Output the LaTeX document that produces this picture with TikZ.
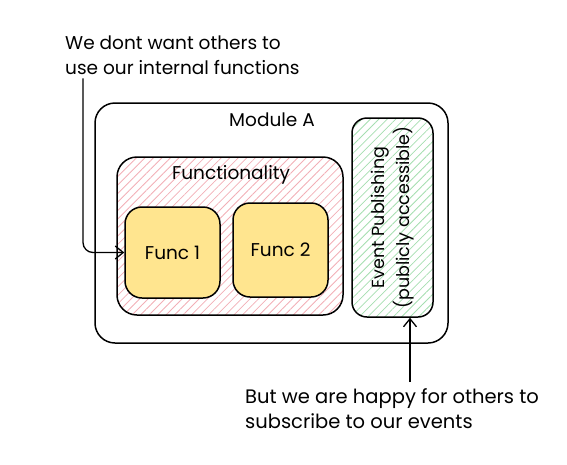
\documentclass[tikz,border=0pt]{standalone}
\usepackage{fontspec}
\setmainfont{Poppins}
\usetikzlibrary{arrows.meta,patterns.meta}
\definecolor{funcyellow}{RGB}{255,229,143}
\definecolor{hatchred}{RGB}{242,175,182}
\definecolor{hatchgreen}{RGB}{165,222,176}
\begin{document}
\begin{tikzpicture}[x=1pt,y=-1pt]
        \tikzset{>={Straight Barb[length=8pt,width=13pt,line width=1.3pt]},
          box/.style={draw,line width=1.5pt,rounded corners=20pt,inner sep=0pt},
          txt/.style={font=\fontsize{18.5}{25}\selectfont},
          note/.style={txt,inner sep=0pt,align=left,anchor=north west}}
        \useasboundingbox (0,0) rectangle (567,464);
        % boxes
        \node[box,minimum width=353pt,minimum height=240pt] (mod) at (271.5,223) {};
        \node[txt] (modtitle) at (272,120) {Module A};
        \node[box,minimum width=226pt,minimum height=158pt,
          pattern={Lines[angle=45,distance=6pt,line width=0.8pt]},pattern color=hatchred] (fun) at (230,236) {};
        \node[txt] (funtitle) at (231,175) {Functionality};
        \node[box,rounded corners=17pt,fill=funcyellow,minimum width=95pt,minimum height=91pt,txt] (f1) at (172.5,252.5) {Func 1};
        \node[box,rounded corners=17pt,fill=funcyellow,minimum width=95pt,minimum height=94pt,txt] (f2) at (280.5,250) {Func 2};
        \node[box,rounded corners=15pt,minimum width=81pt,minimum height=199pt,
          pattern={Lines[angle=45,distance=6pt,line width=0.8pt]},pattern color=hatchgreen] (evt) at (392.5,217.5) {};
        \node[rotate=90,align=center,font=\fontsize{17.5}{25}\selectfont] (evttxt) at (evt) {Event Publishing\\(publicly accessible)};
        % notes
        \node[note] (note1) at (65,36) {We dont want others to\\use our internal functions};
        \node[note,font=\fontsize{19.5}{25}\selectfont] (note2) at (245,388) {But we are happy for others to\\subscribe to our events};
        \draw[->,line width=1.3pt,rounded corners=10pt] ([xshift=18pt,yshift=-3pt]note1.south west) |- (f1.west);
        \draw[->,line width=1.3pt] ([xshift=165pt,yshift=6pt]note2.north west) -- ([xshift=17.5pt]evt.south);
    \end{tikzpicture}
\end{document}
